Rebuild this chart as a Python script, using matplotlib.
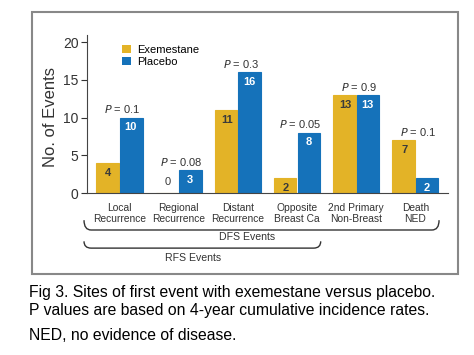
import numpy as np
import matplotlib
matplotlib.use("Agg")
import matplotlib.pyplot as plt
from matplotlib.patches import Rectangle, PathPatch
from matplotlib.path import Path

plt.rcParams['font.family'] = ['Liberation Sans', 'DejaVu Sans']

categories = ["Local\nRecurrence", "Regional\nRecurrence", "Distant\nRecurrence",
              "Opposite\nBreast Ca", "2nd Primary\nNon-Breast", "Death\nNED"]
exemestane = [4, 0, 11, 2, 13, 7]
placebo = [10, 3, 16, 8, 13, 2]
p_values = ["0.1", "0.08", "0.3", "0.05", "0.9", "0.1"]
yticks = [0, 5, 10, 15, 20]

c_exe = "#E3B327"
c_pla = "#1572BA"

fig = plt.figure(figsize=(4.74, 3.55), dpi=100)
ax = fig.add_axes([0.1835, 0.4563, 0.7615, 0.4465])

x = np.arange(len(categories))
w = 0.38
ax.bar(x - w / 2 - 0.01, exemestane, w, color=c_exe, edgecolor=c_exe, linewidth=0.8, zorder=3)
ax.bar(x + w / 2 + 0.01, placebo, w, color=c_pla, edgecolor=c_pla, linewidth=0.8, zorder=3)

for i in range(len(categories)):
    e, p = exemestane[i], placebo[i]
    if e > 1.5:
        ax.text(x[i] - w / 2, e - 1.3, str(e), ha="center", va="center",
                fontsize=8, color="#3a3a3a", fontweight="bold", zorder=4)
    else:
        ax.text(x[i] - w / 2, e + 1.5, str(e), ha="center", va="center",
                fontsize=8, color="#3a3a3a")
    ax.text(x[i] + w / 2, p - 1.3, str(p), ha="center", va="center",
            fontsize=8, color="white", fontweight="bold", zorder=4)
    top = max(e, p)
    ax.text(x[i] + 0.05, top + 1.1, "$\\it{P}$ = " + p_values[i], ha="center", va="center",
            fontsize=8, color="#333333")

ax.set_xlim(-0.55, 5.55)
ax.set_ylim(0, 21)
ax.set_yticks(yticks)
ax.set_xticks([])
ax.tick_params(axis="y", direction="out", length=4, width=0.8, labelsize=10, pad=2, colors="#333333")
for s in ["top", "right"]:
    ax.spines[s].set_visible(False)
ax.spines["left"].set_color("#444444")
ax.spines["bottom"].set_color("#444444")
ax.spines["bottom"].set_zorder(5)
ax.set_ylabel("No. of Events", fontsize=12, color="#333333")
ax.yaxis.set_label_coords(-0.08, 0.48)

for i, lab in enumerate(categories):
    ax.text(x[i], -1.3, lab, ha="center", va="top", fontsize=7.4, color="#333333",
            linespacing=1.2)

# legend
ax.bar(0, 0, color=c_exe, label="Exemestane")
ax.bar(0, 0, color=c_pla, label="Placebo")
leg = ax.legend(loc="upper left", bbox_to_anchor=(0.07, 1.0), frameon=False, fontsize=8,
                handlelength=0.8, handleheight=0.8, handletextpad=0.5, labelspacing=0.2)

# braces
def brace(x0, x1, ytop, ybot):
    r = 0.12
    verts = [(x0, ytop), (x0, ybot), (x0 + r, ybot), (x1 - r, ybot), (x1, ybot), (x1, ytop)]
    codes = [Path.MOVETO, Path.CURVE3, Path.CURVE3, Path.LINETO, Path.CURVE3, Path.CURVE3]
    ax.add_patch(PathPatch(Path(verts, codes), fill=False, lw=1.0, edgecolor="#333333",
                           clip_on=False))

brace(-0.6, 5.4, -3.6, -4.9)
ax.text(2.15, -5.8, "DFS Events", ha="center", va="center", fontsize=7.6, color="#333333")
brace(-0.6, 3.4, -6.4, -7.3)
ax.text(1.25, -8.6, "RFS Events", ha="center", va="center", fontsize=7.6, color="#333333")

# outer box
fig.patches.append(Rectangle((32 / 474, 1 - 274 / 355), 426 / 474, 262 / 355,
                             transform=fig.transFigure, fill=False,
                             edgecolor="#888888", linewidth=1.5))

caption = ["Fig 3. Sites of first event with exemestane versus placebo.",
           "P values are based on 4-year cumulative incidence rates.",
           "NED, no evidence of disease."]
cap_y = [292, 310, 335]
for t, yy in zip(caption, cap_y):
    fig.text(29 / 474, 1 - yy / 355, t, ha="left", va="center", fontsize=11.3, color="black")

fig.savefig("out.png", dpi=100)
